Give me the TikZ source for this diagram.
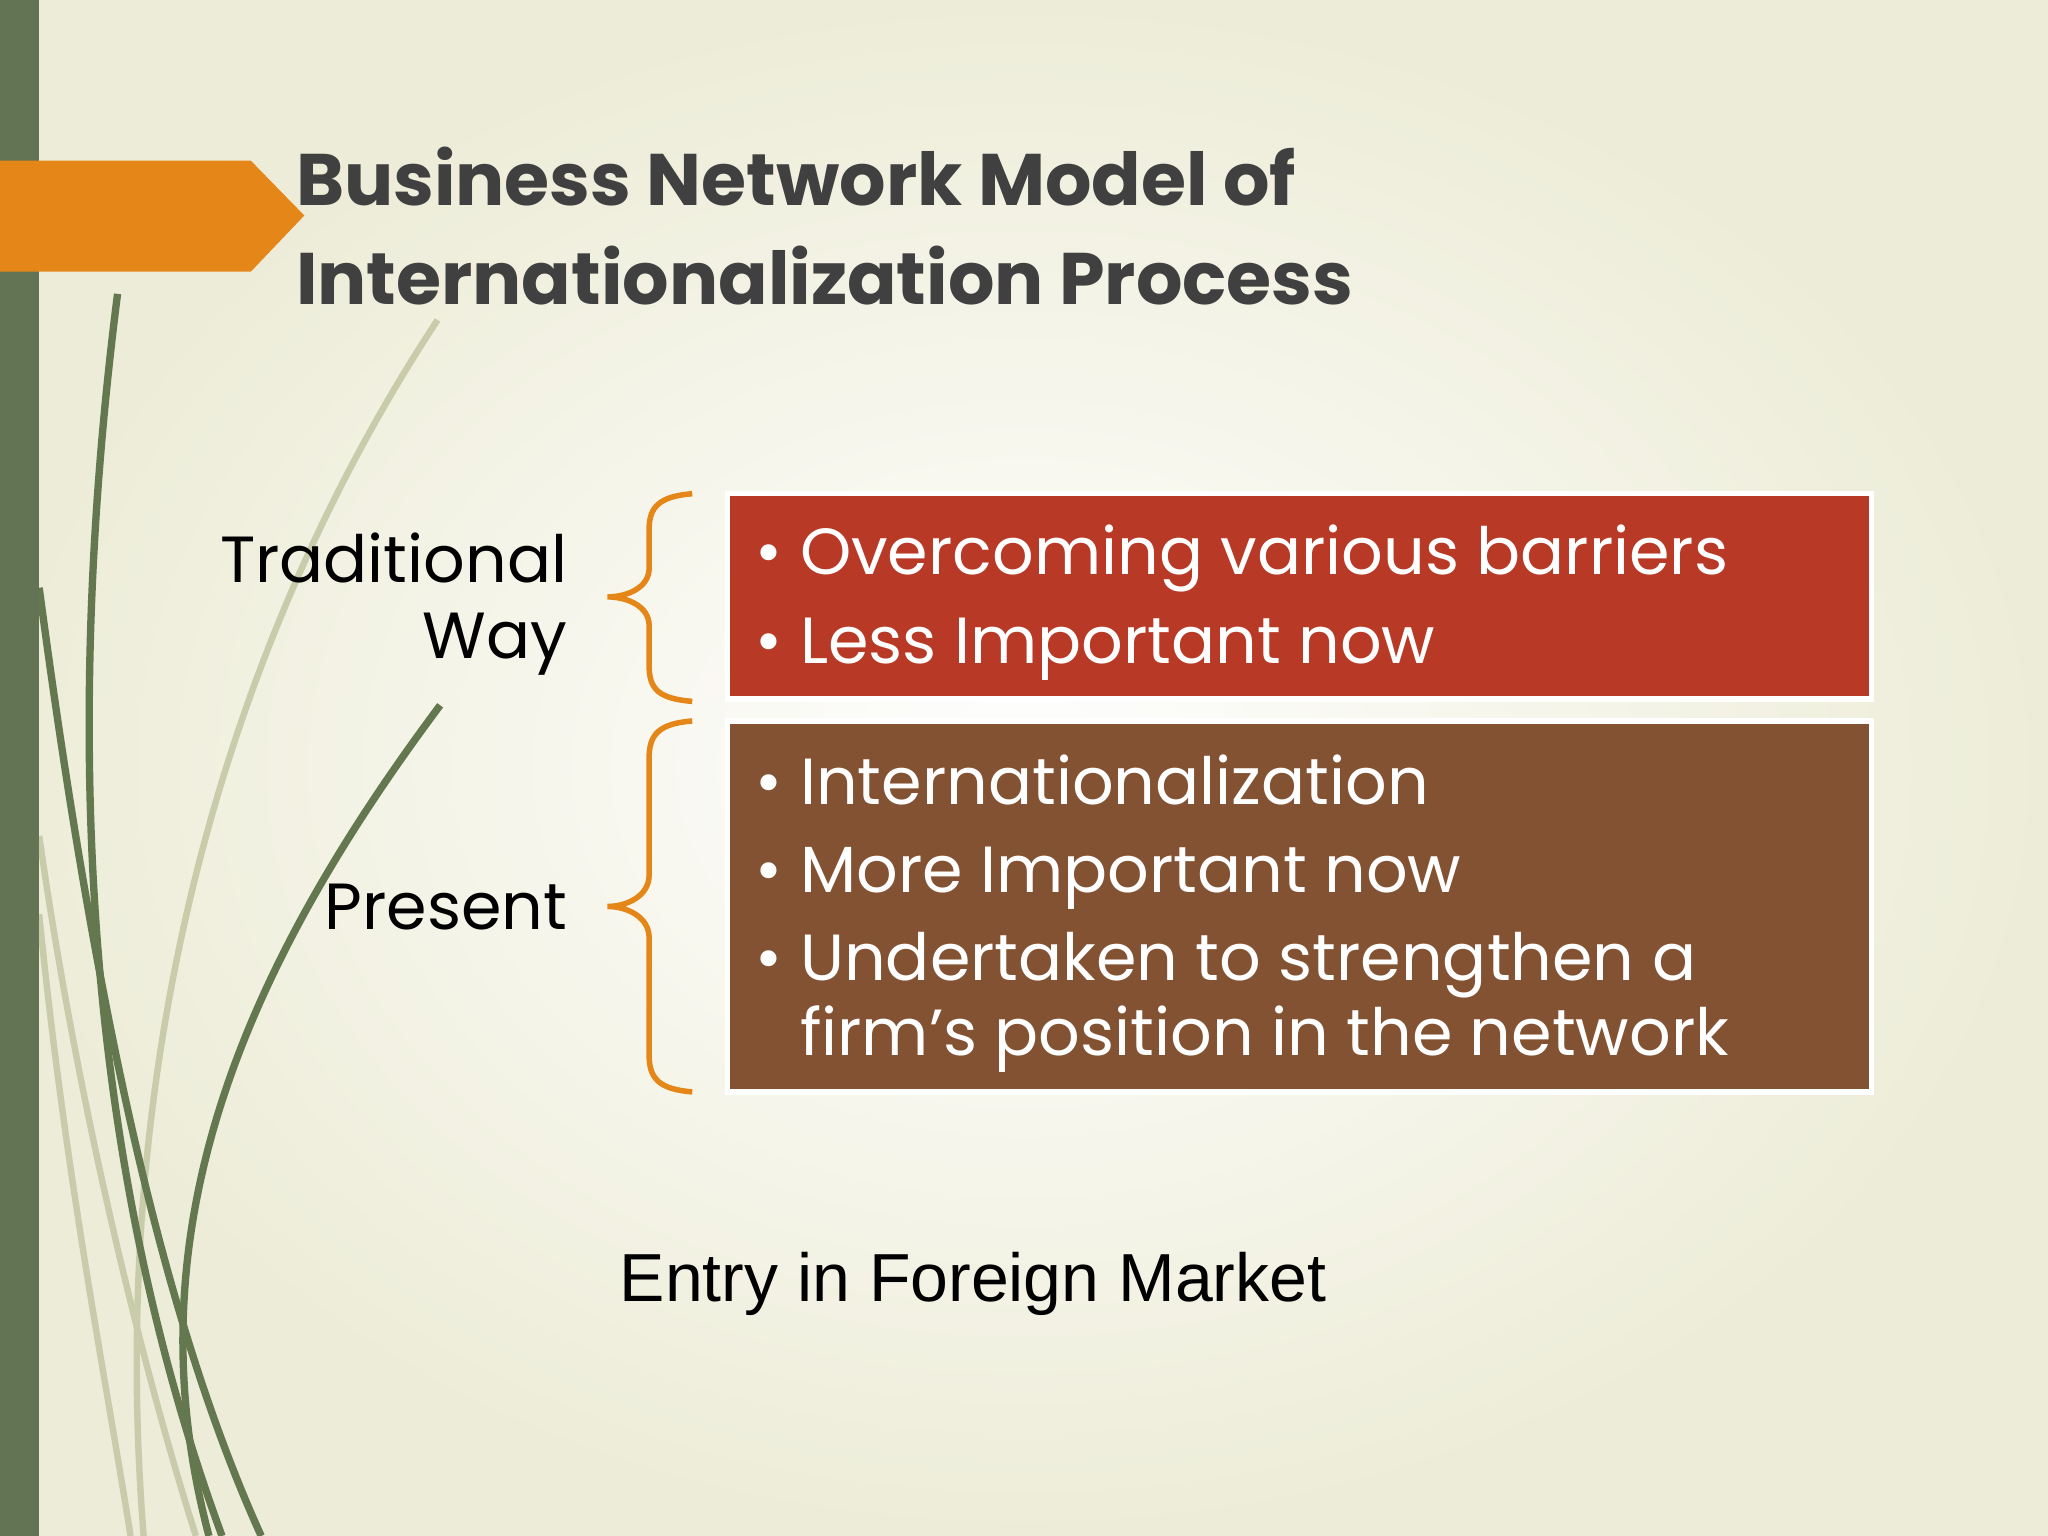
\documentclass[tikz,border=0pt]{standalone}
\usepackage{fontspec}
\setmainfont{Poppins}
\newfontfamily\arialf{Liberation Sans}
\usetikzlibrary{shadings}
\definecolor{bgout}{RGB}{230,229,200}
\definecolor{gbar}{RGB}{98,116,84}
\definecolor{orng}{RGB}{228,134,24}
\definecolor{redbox}{RGB}{183,57,38}
\definecolor{brownbox}{RGB}{131,82,50}
\definecolor{grass}{RGB}{100,120,80}
\definecolor{grassl}{RGB}{200,204,170}
\definecolor{titlec}{RGB}{64,64,64}
\tikzset{
 box/.style={draw=white,line width=1.2pt},
 brace/.style={draw=orng,line width=1.2pt},
 item/.style={anchor=base west,text=white,font=\fontsize{14.2}{17}\selectfont,inner sep=0pt},
 lab/.style={anchor=base east,font=\fontsize{14.2}{16.5}\selectfont,inner sep=0pt},
 blade/.style={draw=grass,line width=1.6pt},
 bladel/.style={draw=grassl,line width=1.4pt}
}
\begin{document}
\begin{tikzpicture}[x=0.01cm,y=-0.01cm]
\useasboundingbox (0,0) rectangle (1568,1176);
\shade[inner color=white,outer color=bgout] (0,0) rectangle (1568,1176);
\fill[white,opacity=0.3] (0,0) rectangle (1568,1176);
% grass
\draw[bladel] (30,640) .. controls (60,850) and (110,1050) .. (150,1176);
\draw[bladel] (335,245) .. controls (180,480) and (80,800) .. (110,1176);
\draw[bladel] (30,700) .. controls (50,900) and (80,1050) .. (100,1176);
\draw[blade] (90,225) .. controls (55,500) and (50,850) .. (170,1176);
\draw[blade] (30,450) .. controls (70,750) and (120,1000) .. (200,1176);
\draw[blade] (337,540) .. controls (180,750) and (100,950) .. (160,1176);
\fill[gbar] (0,0) rectangle (30,1176);
\fill[orng] (0,123) -- (192,123) -- (233,165) -- (192,208) -- (0,208) -- cycle;
% title
\node[anchor=north west,align=left,text=titlec,inner sep=0pt,font=\fontsize{15.9}{21.5}\bfseries\selectfont] (title) at (226,112) {Business Network Model of\\Internationalization Process};
% boxes
\path[box,fill=redbox] (557,378) rectangle (1433,535);
\path[box,fill=brownbox] (557,552) rectangle (1433,836);
\node[item] (i1) at (578,440) {\textbullet\ Overcoming various barriers};
\node[item] (i2) at (578,508) {\textbullet\ Less Important now};
\node[item] (i3) at (578,616) {\textbullet\ Internationalization};
\node[item] (i4) at (578,683) {\textbullet\ More Important now};
\node[item] (i5) at (578,751) {\textbullet\ Undertaken to strengthen a};
\node[item] (i6) at (578,808) {\phantom{\textbullet\ }firm’s position in the network};
% braces
\draw[brace] (530,378) .. controls (505,380) and (497,388) .. (497,405) -- (497,435) .. controls (497,450) and (480,457) .. (465,457) .. controls (480,457) and (497,464) .. (497,479) -- (497,510) .. controls (497,528) and (505,535) .. (530,537);
\draw[brace] (530,552) .. controls (505,554) and (497,562) .. (497,580) -- (497,670) .. controls (497,686) and (480,694) .. (465,694) .. controls (480,694) and (497,702) .. (497,718) -- (497,808) .. controls (497,826) and (505,834) .. (530,836);
\node[lab] (l1) at (435,446) {Traditional};
\node[lab] (l1b) at (435,504) {Way};
\node[lab] (l2) at (435,712) {Present};
\node[anchor=center,inner sep=0pt,font=\arialf\fontsize{14.8}{18}\selectfont] (entry) at (745,983) {Entry in Foreign Market};
\end{tikzpicture}
\end{document}
